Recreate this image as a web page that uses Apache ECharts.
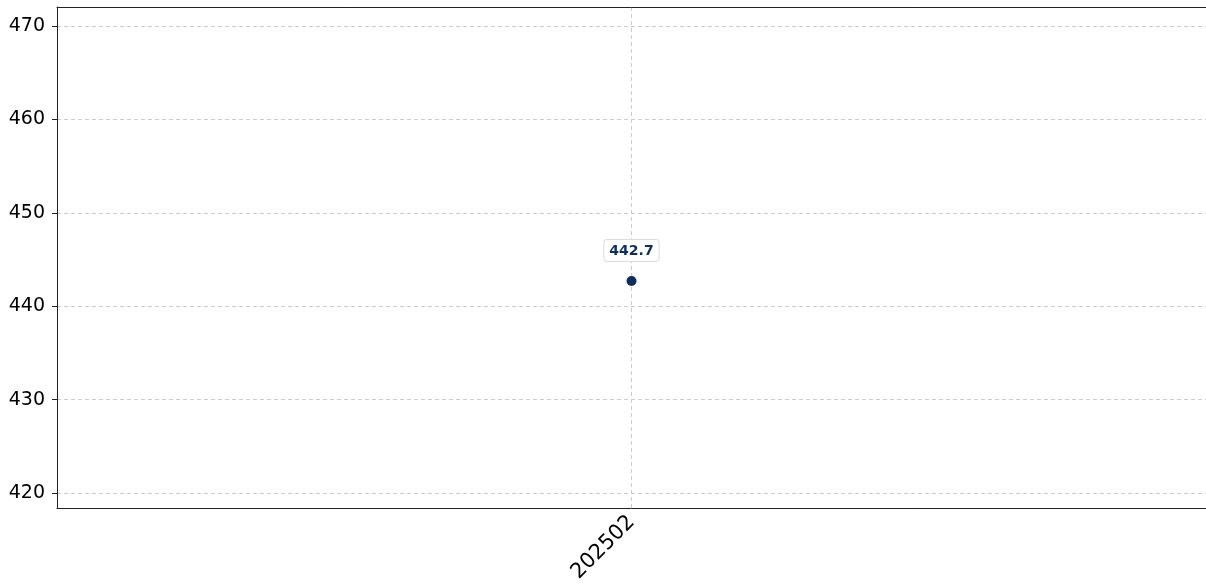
<!DOCTYPE html>
<html><head><meta charset="utf-8">
<script src="https://cdn.jsdelivr.net/npm/echarts@6/dist/echarts.min.js"></script>
<style>html,body{margin:0;padding:0;background:#fff}#c{width:1206px;height:584px}</style>
</head><body><div id="c"></div>
<script>
const categories = ['202502'];
const values = [442.7];
const yTicks = [420, 430, 440, 450, 460, 470];
const yMin = 418.4, yMax = 472.03;

const chart = echarts.init(document.getElementById('c'), null, {renderer: 'canvas'});
chart.setOption({
  animation: false,
  grid: {left: 57, right: 0, top: 7, bottom: 76, show: false, containLabel: false, outerBoundsMode: 'none'},
  xAxis: [{
    type: 'category', data: categories, boundaryGap: true,
    axisLine: {lineStyle: {color: '#222', width: 1}},
    axisTick: {alignWithLabel: true, length: 5, lineStyle: {color: '#222'}},
    axisLabel: {rotate: 45, fontSize: 21, color: '#000', fontFamily: 'DejaVu Sans', margin: 11},
    splitLine: {show: false}, z: 5
  }, {
    type: 'category', data: categories, position: 'top',
    axisLine: {show: true, lineStyle: {color: '#222', width: 1}},
    axisTick: {show: false}, axisLabel: {show: false}, splitLine: {show: false}, z: 5
  }],
  yAxis: [{
    type: 'value', min: yMin, max: yMax,
    axisLine: {show: true, lineStyle: {color: '#222', width: 1}},
    axisTick: {show: true, length: 5, lineStyle: {color: '#222'}, customValues: yTicks},
    axisLabel: {fontSize: 19, color: '#000', fontFamily: 'DejaVu Sans', margin: 12, customValues: yTicks},
    splitLine: {show: true, lineStyle: {color: '#cccccc', type: [4, 3], width: 1}}, z: 5
  }, {
    type: 'value', min: yMin, max: yMax, position: 'right',
    axisLine: {show: true, lineStyle: {color: '#222', width: 1}},
    axisTick: {show: false}, axisLabel: {show: false}, splitLine: {show: false}, z: 5
  }],
  series: [{
    type: 'line', data: values, z: 10,
    symbol: 'circle', symbolSize: 10,
    itemStyle: {color: '#0d2f5f'},
    lineStyle: {color: '#0d2f5f'},
    label: {show: true, position: 'top', distance: 15, formatter: p => p.value.toFixed(1),
      fontSize: 14, fontWeight: 'bold', color: '#0d2f5f', fontFamily: 'DejaVu Sans',
      backgroundColor: '#fff', borderColor: '#dddddd', borderWidth: 1, borderRadius: 3, padding: [4, 5, 3, 5]},
    markLine: {silent: true, symbol: 'none', label: {show: false}, z: 1,
      lineStyle: {color: '#cccccc', type: [4, 3], width: 1},
      data: [{xAxis: categories[0]}]}
  }]
});
</script></body></html>
